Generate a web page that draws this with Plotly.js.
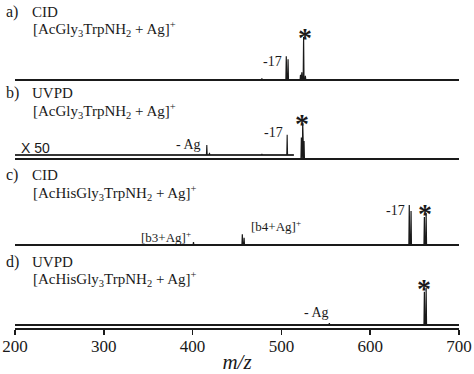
<!DOCTYPE html>
<html><head><meta charset="utf-8">
<script src="https://cdn.plot.ly/plotly-3.0.1.min.js"></script>
<style>body{margin:0;background:#fff}#g{width:474px;height:374px}</style>
</head><body><div id="g"></div>
<script>
// ---- data (m/z, relative intensity %) ----
const xTicks = [200, 300, 400, 500, 600, 700];
const aMz  = [240, 258, 478, 505.5, 507.5, 521.5, 523, 525, 527];
const aInt = [2, 2, 4, 55, 48, 12, 18, 100, 10];
const bMz  = [522.5, 524, 525.5];
const bInt = [60, 100, 50];
const b50Mz  = [258, 330, 416, 419, 478, 506.5];
const b50Int = [2, 2, 28, 6, 3, 56];
const b50End = 514;
const cMz  = [401, 456, 458, 574, 615, 644, 646, 661, 663];
const cInt = [7, 27, 18, 2, 2, 100, 85, 70, 80];
const dMz  = [554, 661, 663];
const dInt = [5, 90, 100];
const xRange = [200, 700];

// ---- geometry helpers ----
const W = 474, H = 374, L = 15, R = 15, T = 0, B = 46;
const PW = W - L - R, PH = H - T - B;
const px = v => (v - L) / PW;
const py = v => (PH - (v - T)) / PH;
function dom(basePx, hPx) {
  return [py(basePx + 0.05 * hPx), py(basePx - 1.05 * hPx)];
}
function spec(mz, inten, x0, x1) {
  const idx = mz.map((m, i) => i).sort((i, j) => mz[i] - mz[j]);
  const xs = [x0], ys = [0];
  idx.forEach(i => { xs.push(mz[i] - 0.45, mz[i], mz[i] + 0.45); ys.push(0, inten[i], 0); });
  xs.push(x1); ys.push(0);
  return {xs, ys};
}
const col = '#1a1a1a';
function tr(s, ya, w) {
  return {x: s.xs, y: s.ys, xaxis: 'x', yaxis: ya, type: 'scatter', mode: 'lines',
          line: {color: col, width: w || 1.2}, hoverinfo: 'skip', showlegend: false};
}
function base(ya, x1, w) {
  return {x: [xRange[0], x1], y: [0, 0], xaxis: 'x', yaxis: ya, type: 'scatter', mode: 'lines',
          line: {color: col, width: w || 1.8}, hoverinfo: 'skip', showlegend: false};
}
const sa = spec(aMz, aInt, xRange[0], xRange[1]);
const sb = spec(bMz, bInt, xRange[0], xRange[1]);
const sb50 = spec(b50Mz, b50Int, xRange[0], b50End);
const sc = spec(cMz, cInt, xRange[0], xRange[1]);
const sd = spec(dMz, dInt, xRange[0], xRange[1]);

const data = [
  base('y', xRange[1]), tr(sd, 'y'),
  base('y2', xRange[1]), tr(sc, 'y2'),
  base('y3', xRange[1]), tr(sb, 'y3'),
  base('y4', xRange[1]), tr(sa, 'y4'),
  base('y5', b50End, 1.4), tr(sb50, 'y5', 1.1)
];

const yax = d => ({domain: d, range: [-5, 105], visible: false, fixedrange: true, anchor: 'x'});
const serif = 'Liberation Serif, Times New Roman, serif';
function ann(text, xp, yp, size, xanchor, extra) {
  return Object.assign({text, xref: 'paper', yref: 'paper', x: px(xp), y: py(yp),
    xanchor: xanchor || 'left', yanchor: 'middle', showarrow: false,
    font: {family: serif, size: size, color: col}}, extra || {});
}
const f1 = '[AcGly<sub>3</sub>TrpNH<sub>2</sub> + Ag]<sup>+</sup>';
const f2 = '[AcHisGly<sub>3</sub>TrpNH<sub>2</sub> + Ag]<sup>+</sup>';
const star = (xp, yp) => ann('<b>*</b>', xp, yp, 28, 'center');
const annotations = [
  ann('a)', 4, 12, 16), ann('CID', 30, 12, 15), ann(f1, 31, 29, 15),
  ann('b)', 4, 93, 16), ann('UVPD', 30, 93, 15), ann(f1, 31, 111, 15),
  ann('c)', 4, 175, 16), ann('CID', 30, 175, 15), ann(f2, 31, 193, 15),
  ann('d)', 4, 262, 16), ann('UVPD', 30, 262, 15), ann(f2, 31, 279, 15),
  ann('X 50', 19, 148, 14, 'left', {font: {family: 'Liberation Sans, Arial, sans-serif', size: 14, color: col}}),
  ann('- Ag', 203, 145, 14, 'right'),
  ann('-17', 284, 62, 14, 'right'),
  ann('-17', 285, 132, 14, 'right'),
  ann('[b3+Ag]<sup>+</sup>', 139, 237, 13),
  ann('[b4+Ag]<sup>+</sup>', 249, 226, 13),
  ann('-17', 407, 210, 14, 'right'),
  ann('- Ag', 302, 312, 14),
  star(304.5, 37), star(302, 123), star(425, 213), star(424, 288)
];

const layout = {
  width: W, height: H, margin: {l: L, r: R, t: T, b: B},
  paper_bgcolor: '#fff', plot_bgcolor: 'rgba(0,0,0,0)',
  font: {family: serif, color: col},
  xaxis: {range: xRange, anchor: 'free', position: 0, showline: true, linecolor: col, linewidth: 1.6,
          ticks: 'outside', ticklen: 5, tickwidth: 1.6, tickcolor: col, tickvals: xTicks,
          ticklabelstandoff: -3,
          showgrid: false, zeroline: false, fixedrange: true,
          tickfont: {family: serif, size: 17, color: col},
          title: {text: '<i>m/z</i>', font: {family: serif, size: 21, color: col}, standoff: 14}},
  yaxis: yax(dom(325, 37)),
  yaxis2: yax(dom(245, 40)),
  yaxis3: yax(dom(159, 36)),
  yaxis4: yax(dom(80, 43)),
  yaxis5: yax(dom(155, 36)),
  annotations: annotations
};
Plotly.newPlot('g', data, layout, {staticPlot: true, displayModeBar: false});
</script></body></html>
